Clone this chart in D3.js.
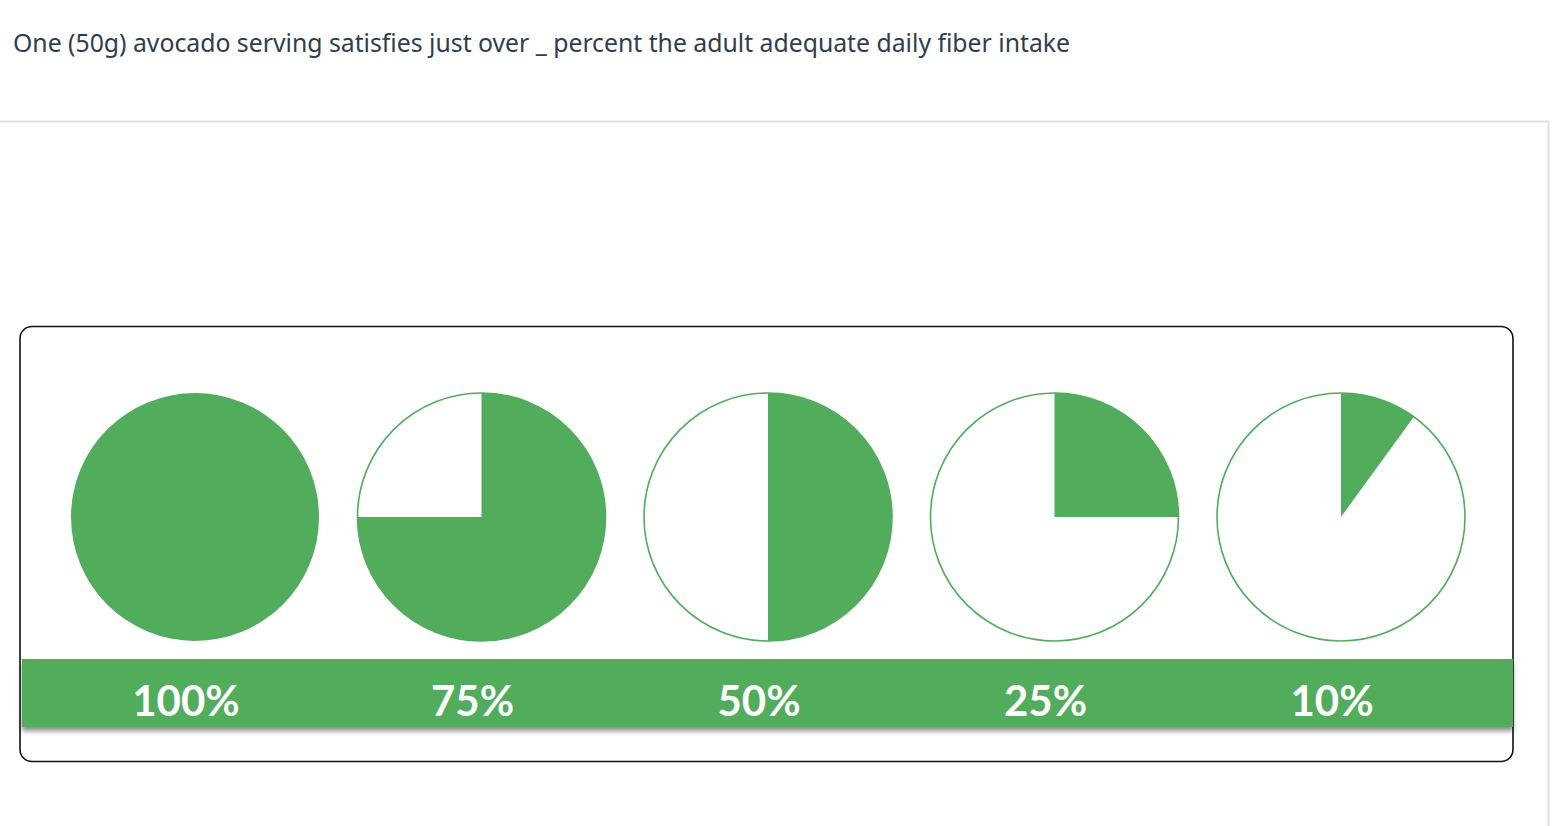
<!DOCTYPE html>
<html>
<head>
<meta charset="utf-8">
<script src="https://cdn.jsdelivr.net/npm/d3@7"></script>
<style>
  html, body { margin: 0; padding: 0; background: #fff; }
  svg { display: block; }
</style>
</head>
<body>
<svg id="chart" width="1556" height="826"></svg>
<script>
// question text and the five answer options
const title = 'One (50g) avocado serving satisfies just over _ percent the adult adequate daily fiber intake';
const labels = ['100%', '75%', '50%', '25%', '10%'];
const values = [100, 75, 50, 25, 10];

const green = '#51ac5c';
const svg = d3.select('#chart');

svg.append('text')
  .attr('x', 13).attr('y', 52)
  .attr('font-family', 'Noto Sans, sans-serif')
  .attr('font-size', 25)
  .attr('fill', '#2f3e4e')
  .attr('textLength', 1057)
  .attr('lengthAdjust', 'spacingAndGlyphs')
  .text(title);

// panel edges
svg.append('path')
  .attr('d', 'M0,121.5H1548.5V826')
  .attr('fill', 'none')
  .attr('stroke', '#dcdfe3')
  .attr('stroke-width', 2);

const defs = svg.append('defs');
defs.append('filter').attr('id', 'shadow')
  .attr('x', '-5%').attr('y', '-20%').attr('width', '110%').attr('height', '160%')
  .append('feDropShadow')
  .attr('dx', 0).attr('dy', 4).attr('stdDeviation', 2.5)
  .attr('flood-color', '#000').attr('flood-opacity', 0.45);

svg.append('rect')
  .attr('x', 20).attr('y', 326.5)
  .attr('width', 1493).attr('height', 435)
  .attr('rx', 12)
  .attr('fill', '#fff')
  .attr('stroke', '#111')
  .attr('stroke-width', 1.6);

const x = d3.scalePoint().domain(labels).range([195, 1341]);
const share = d3.scaleLinear().domain([0, 100]).range([0, 2 * Math.PI]);
const cy = 517, r = 124;

const arc = d3.arc().innerRadius(0).outerRadius(r).startAngle(0);

const g = svg.selectAll('g.pie')
  .data(labels.map((l, i) => ({ label: l, value: values[i] })))
  .join('g')
  .attr('class', 'pie')
  .attr('transform', d => `translate(${x(d.label)},${cy})`);

g.filter(d => d.value < 100).append('circle')
  .attr('r', r)
  .attr('fill', '#fff')
  .attr('stroke', green)
  .attr('stroke-width', 1.6);

g.append('path')
  .attr('d', d => arc({ endAngle: share(d.value) }))
  .attr('fill', green);

// label band
svg.append('rect')
  .attr('x', 22).attr('y', 659)
  .attr('width', 1491).attr('height', 68)
  .attr('fill', green)
  .attr('filter', 'url(#shadow)');

svg.selectAll('text.lbl')
  .data(labels)
  .join('text')
  .attr('class', 'lbl')
  .attr('x', d => x(d) - 9)
  .attr('y', 716)
  .attr('text-anchor', 'middle')
  .attr('font-family', 'Lato, sans-serif')
  .attr('font-weight', 'bold')
  .attr('font-size', 42)
  .attr('fill', '#fff')
  .text(d => d);
</script>
</body>
</html>
